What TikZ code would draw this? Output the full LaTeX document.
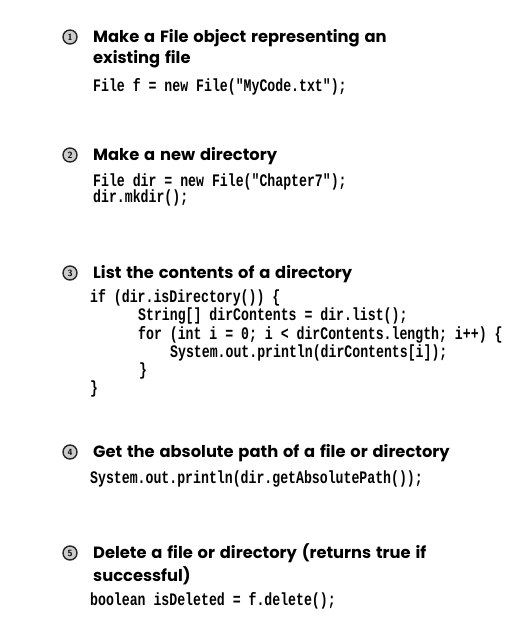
\documentclass[tikz,border=0pt]{standalone}
\usepackage{fontspec}
\newfontfamily\headfont[WordSpace=1.4]{Poppins}
\newfontfamily\codefont[FakeStretch=0.75]{Liberation Mono}
\usetikzlibrary{positioning}

\begin{document}
\begin{tikzpicture}[x=1pt, y=-1pt]
    \tikzstyle{num}=[circle, draw=black!85, fill=black!20, line width=1.4pt, minimum size=14pt, inner sep=0pt, font={\sffamily\bfseries\small}];
    \tikzstyle{head}=[anchor=base west, inner sep=0pt, font={\headfont\bfseries\fontsize{16.3}{20}\selectfont}];
    \tikzstyle{code}=[anchor=base west, inner sep=0pt, font={\codefont\bfseries\fontsize{17.6}{20}\selectfont}];

    \useasboundingbox (0,0) rectangle (522,630);

    % 1
    \node[num] (n1) at (70,37) {1};
    \node[head] (h1) at (93,42) {Make a File object representing an};
    \node[head] (h1b) at (93,63) {existing file};
    \node[code] (c1) at (93,91) {File f = new File("MyCode.txt");};

    % 2
    \node[num] (n2) at (70,155) {2};
    \node[head] (h2) at (93,160) {Make a new directory};
    \node[code] (c2a) at (93,186) {File dir = new File("Chapter7");};
    \node[code] (c2b) at (93,202) {dir.mkdir();};

    % 3
    \node[num] (n3) at (70,273) {3};
    \node[head] (h3) at (93,278) {List the contents of a directory};
    \node[code] (c3a) at (90,302) {if (dir.isDirectory()) \{};
    \node[code] (c3b) at (138,320.5) {String[] dirContents = dir.list();};
    \node[code] (c3c) at (138,339) {for (int i = 0; i < dirContents.length; i++) \{};
    \node[code] (c3d) at (170,357) {System.out.println(dirContents[i]);};
    \node[code] (c3e) at (139,375) {\}};
    \node[code] (c3f) at (90,393) {\}};

    % 4
    \node[num] (n4) at (70,452) {4};
    \node[head] (h4) at (93,457) {Get the absolute path of a file or directory};
    \node[code] (c4) at (90,483) {System.out.println(dir.getAbsolutePath());};

    % 5
    \node[num] (n5) at (70,553) {5};
    \node[head] (h5) at (93,558) {Delete a file or directory (returns true if};
    \node[head] (h5b) at (93,581) {successful)};
    \node[code] (c5) at (90,605) {boolean isDeleted = f.delete();};
\end{tikzpicture}
\end{document}
